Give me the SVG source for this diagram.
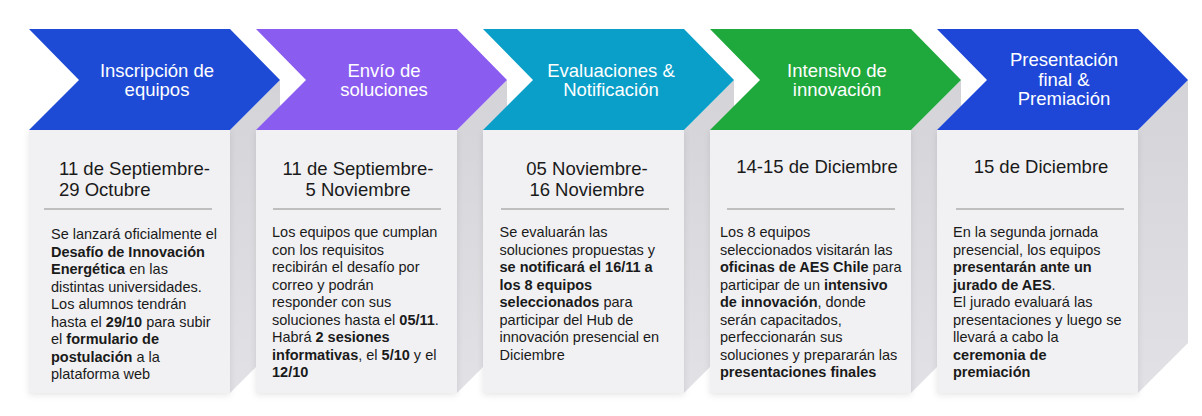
<svg xmlns="http://www.w3.org/2000/svg" width="1202" height="416" viewBox="0 0 1202 416">
<defs>
<linearGradient id="side" x1="0" y1="0" x2="0" y2="1">
<stop offset="0" stop-color="#d4d4d8"/>
<stop offset="1" stop-color="#e2e2e6"/>
</linearGradient>
<filter id="sh" x="-10%" y="-10%" width="120%" height="120%">
<feDropShadow dx="0" dy="2" stdDeviation="3" flood-color="#000" flood-opacity="0.10"/>
</filter>
</defs>
<style>
text{font-family:"Liberation Sans",Arial,sans-serif}
.hd{font-size:18.5px;fill:#ffffff;text-anchor:middle}
.dt{font-size:18.5px;fill:#1a1a1a;text-anchor:middle}
.bd{font-size:14.5px;fill:#1a1a1a}
.b{font-weight:bold}
.side{fill:url(#side)}
.panel{fill:#f1f1f3;filter:url(#sh)}
.sep{stroke:#8c8c8c;stroke-width:1}
</style>
<rect width="1202" height="416" fill="#ffffff"/>

<g id="step1">
<path class="side" d="M230,130 L280,80 V343 L230,393 Z"/>
<rect class="panel" x="29" y="130" width="201" height="263"/>
<path d="M29,29 H230 L280,80 L230,130 H29 L79,80 Z" fill="#1e4bd6"/>
<text class="hd"><tspan x="157" y="77">Inscripción de</tspan><tspan x="157" y="96">equipos</tspan></text>
<text class="dt" style="text-anchor:start"><tspan x="59" y="175">11 de Septiembre-</tspan><tspan x="59" y="196">29 Octubre</tspan></text>
<line class="sep" x1="44" y1="209" x2="212" y2="209"/>
<text class="bd">
<tspan x="51" y="239">Se lanzará oficialmente el</tspan>
<tspan x="51" y="256.5" class="b">Desafío de Innovación</tspan>
<tspan x="51" y="274"><tspan class="b">Energética</tspan> en las</tspan>
<tspan x="51" y="291.5">distintas universidades.</tspan>
<tspan x="51" y="309">Los alumnos tendrán</tspan>
<tspan x="51" y="326.5">hasta el <tspan class="b">29/10</tspan> para subir</tspan>
<tspan x="51" y="344">el <tspan class="b">formulario de</tspan></tspan>
<tspan x="51" y="361.5"><tspan class="b">postulación</tspan> a la</tspan>
<tspan x="51" y="379">plataforma web</tspan>
</text>
</g>

<g id="step2">
<path class="side" d="M457,130 L507,80 V343 L457,393 Z"/>
<rect class="panel" x="256" y="130" width="201" height="263"/>
<path d="M256,29 H457 L507,80 L457,130 H256 L306,80 Z" fill="#8b5cf0"/>
<text class="hd"><tspan x="384" y="77">Envío de</tspan><tspan x="384" y="96">soluciones</tspan></text>
<text class="dt"><tspan x="358" y="175">11 de Septiembre-</tspan><tspan x="358" y="196">5 Noviembre</tspan></text>
<line class="sep" x1="273" y1="209" x2="441" y2="209"/>
<text class="bd">
<tspan x="272" y="237">Los equipos que cumplan</tspan>
<tspan x="272" y="254.5">con los requisitos</tspan>
<tspan x="272" y="272">recibirán el desafío por</tspan>
<tspan x="272" y="289.5">correo y podrán</tspan>
<tspan x="272" y="307">responder con sus</tspan>
<tspan x="272" y="324.5">soluciones hasta el <tspan class="b">05/11</tspan>.</tspan>
<tspan x="272" y="342">Habrá <tspan class="b">2 sesiones</tspan></tspan>
<tspan x="272" y="359.5"><tspan class="b">informativas</tspan>, el <tspan class="b">5/10</tspan> y el</tspan>
<tspan x="272" y="377" class="b">12/10</tspan>
</text>
</g>

<g id="step3">
<path class="side" d="M684,130 L734,80 V343 L684,393 Z"/>
<rect class="panel" x="483" y="130" width="201" height="263"/>
<path d="M483,29 H684 L734,80 L684,130 H483 L533,80 Z" fill="#0a9fc9"/>
<text class="hd"><tspan x="611" y="77">Evaluaciones &amp;</tspan><tspan x="611" y="96">Notificación</tspan></text>
<text class="dt"><tspan x="587" y="175">05 Noviembre-</tspan><tspan x="587" y="196">16 Noviembre</tspan></text>
<line class="sep" x1="501" y1="209" x2="669" y2="209"/>
<text class="bd">
<tspan x="499.5" y="237">Se evaluarán las</tspan>
<tspan x="499.5" y="254.5">soluciones propuestas y</tspan>
<tspan x="499.5" y="272" class="b">se notificará el 16/11 a</tspan>
<tspan x="499.5" y="289.5" class="b">los 8 equipos</tspan>
<tspan x="499.5" y="307"><tspan class="b">seleccionados</tspan> para</tspan>
<tspan x="499.5" y="324.5">participar del Hub de</tspan>
<tspan x="499.5" y="342">innovación presencial en</tspan>
<tspan x="499.5" y="359.5">Diciembre</tspan>
</text>
</g>

<g id="step4">
<path class="side" d="M911,130 L961,80 V343 L911,393 Z"/>
<rect class="panel" x="710" y="130" width="201" height="263"/>
<path d="M710,29 H911 L961,80 L911,130 H710 L760,80 Z" fill="#1fa83c"/>
<text class="hd"><tspan x="837" y="77">Intensivo de</tspan><tspan x="837" y="96">innovación</tspan></text>
<text class="dt"><tspan x="817" y="173">14-15 de Diciembre</tspan></text>
<line class="sep" x1="727" y1="209" x2="895" y2="209"/>
<text class="bd">
<tspan x="720" y="237">Los 8 equipos</tspan>
<tspan x="720" y="254.5">seleccionados visitarán las</tspan>
<tspan x="720" y="272"><tspan class="b">oficinas de AES Chile</tspan> para</tspan>
<tspan x="720" y="289.5">participar de un <tspan class="b">intensivo</tspan></tspan>
<tspan x="720" y="307"><tspan class="b">de innovación</tspan>, donde</tspan>
<tspan x="720" y="324.5">serán capacitados,</tspan>
<tspan x="720" y="342">perfeccionarán sus</tspan>
<tspan x="720" y="359.5">soluciones y prepararán las</tspan>
<tspan x="720" y="377" class="b">presentaciones finales</tspan>
</text>
</g>

<g id="step5">
<path class="side" d="M1138,130 L1188,80 V343 L1138,393 Z"/>
<rect class="panel" x="937" y="130" width="201" height="263"/>
<path d="M937,29 H1138 L1188,80 L1138,130 H937 L987,80 Z" fill="#1e47d8"/>
<text class="hd"><tspan x="1064" y="66">Presentación</tspan><tspan x="1064" y="85.5">final &amp;</tspan><tspan x="1064" y="105">Premiación</tspan></text>
<text class="dt"><tspan x="1041" y="173">15 de Diciembre</tspan></text>
<line class="sep" x1="956" y1="209" x2="1124" y2="209"/>
<text class="bd">
<tspan x="953" y="237">En la segunda jornada</tspan>
<tspan x="953" y="254.5">presencial, los equipos</tspan>
<tspan x="953" y="272" class="b">presentarán ante un</tspan>
<tspan x="953" y="289.5"><tspan class="b">jurado de AES</tspan>.</tspan>
<tspan x="953" y="307">El jurado evaluará  las</tspan>
<tspan x="953" y="324.5">presentaciones y luego se</tspan>
<tspan x="953" y="342">llevará a cabo la</tspan>
<tspan x="953" y="359.5" class="b">ceremonia de</tspan>
<tspan x="953" y="377" class="b">premiación</tspan>
</text>
</g>

<g id="connectors"></g>
</svg>
